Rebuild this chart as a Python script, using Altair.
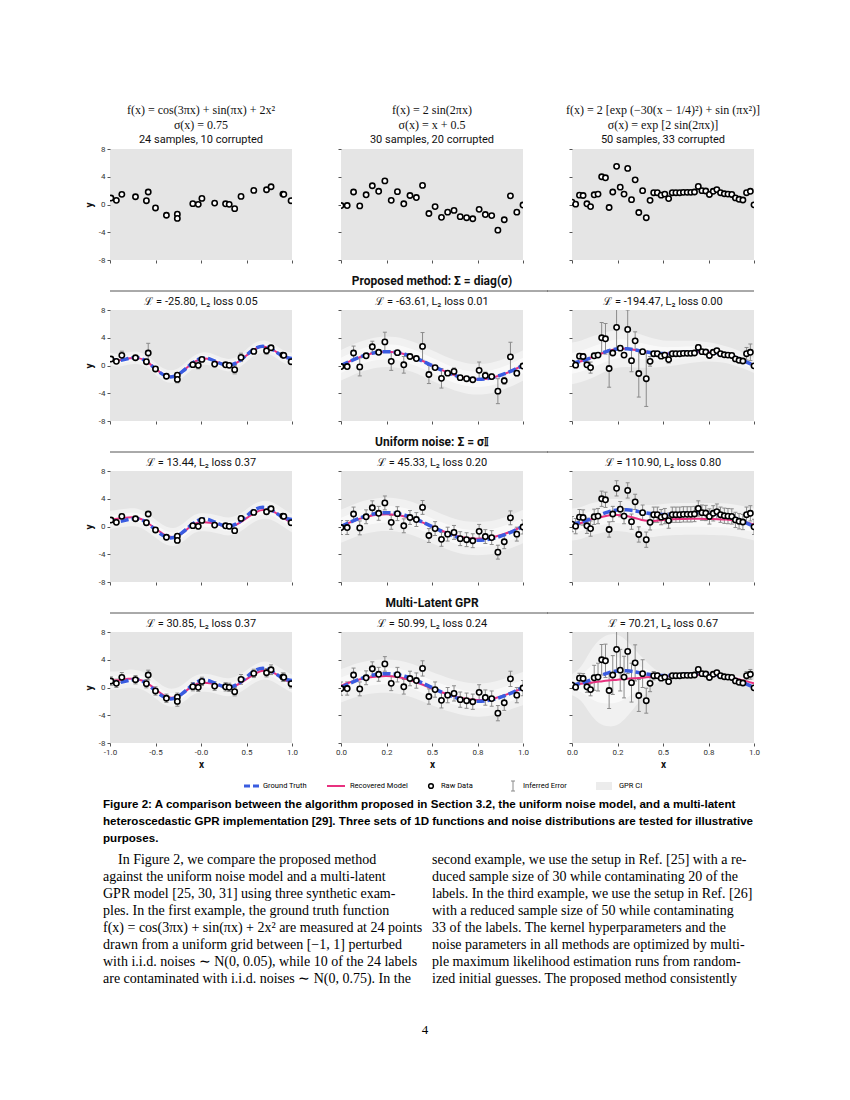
import altair as alt
import pandas as pd

BLUE = "#3a5ce0"
PINK = "#e8317f"
BG = "#e5e5e5"
ERRC = "#8a8a8a"

# ---------------- raw data (shared by all rows of a column) ----------------
x_c1 = [-0.99, -0.93, -0.87, -0.72, -0.60, -0.58, -0.50, -0.38, -0.26, -0.26, -0.09, -0.03,
        0.01, 0.15, 0.27, 0.31, 0.37, 0.44, 0.58, 0.72, 0.77, 0.90, 0.91, 0.99]
y_c1 = [0.93, 0.60, 1.46, 1.12, 0.55, 1.80, -0.50, -1.55, -1.40, -2.00, 0.12, 0.02,
        0.88, 0.20, 0.10, 0.02, -0.60, 1.17, 2.03, 2.13, 2.56, 1.50, 1.46, 0.55]

x_c2 = [0.0, 0.034, 0.069, 0.103, 0.138, 0.172, 0.207, 0.241, 0.276, 0.310, 0.345, 0.379,
        0.414, 0.448, 0.483, 0.517, 0.552, 0.586, 0.621, 0.655, 0.690, 0.724, 0.759, 0.793,
        0.828, 0.862, 0.897, 0.931, 0.966, 1.0]
y_c2 = [-0.15, -0.15, 1.8, -0.2, 1.4, 2.7, 1.9, 3.4, 0.6, 1.85, 0.1, 1.3, 1.0, 2.75, -1.3,
        -0.3, -1.85, -1.1, -0.85, -1.75, -1.9, -2.05, -0.7, -1.45, -1.6, -3.7, -2.2, 1.25,
        -1.1, -0.08]

x_c3 = [0.0, 0.020, 0.041, 0.061, 0.082, 0.102, 0.122, 0.143, 0.163, 0.184, 0.204, 0.224,
        0.245, 0.265, 0.286, 0.306, 0.327, 0.347, 0.367, 0.388, 0.408, 0.429, 0.449, 0.469,
        0.490, 0.510, 0.531, 0.551, 0.571, 0.592, 0.612, 0.633, 0.653, 0.673, 0.694, 0.714,
        0.735, 0.755, 0.776, 0.796, 0.816, 0.837, 0.857, 0.878, 0.898, 0.918, 0.939, 0.959,
        0.980, 1.0]
y_c3 = [0.34, 0.05, 1.35, 1.30, 0.10, -0.30, 1.40, 1.50, 4.00, 3.85, -0.43, 1.80, 5.50, 2.50,
        1.50, 5.20, 0.70, 3.55, -1.15, 2.00, -1.90, 0.60, 1.70, 1.70, 1.35, 1.50, 0.85, 1.70,
        1.70, 1.70, 1.75, 1.75, 1.75, 1.80, 2.60, 2.00, 1.95, 1.45, 1.90, 2.15, 1.70, 1.55,
        1.50, 1.45, 0.95, 0.75, 0.65, 1.70, 1.90, -0.05]

# ---------------- curves ----------------
grid_c1 = [-1.0, -0.9, -0.8, -0.7, -0.6, -0.5, -0.4, -0.3, -0.2, -0.1, 0.0,
           0.1, 0.2, 0.3, 0.4, 0.5, 0.6, 0.7, 0.8, 0.9, 1.0]
grid_c23 = [0.0, 0.05, 0.1, 0.15, 0.2, 0.25, 0.3, 0.35, 0.4, 0.45, 0.5,
            0.55, 0.6, 0.65, 0.7, 0.75, 0.8, 0.85, 0.9, 0.95, 1.0]

truth_c1 = [1.0, 0.72, 1.0, 1.12, 0.58, -0.5, -1.44, -1.58, -0.82, 0.3, 1.0,
            0.92, 0.36, 0.04, 0.46, 1.5, 2.48, 2.74, 2.18, 1.34, 1.0]
truth_c2 = [0.0, 0.62, 1.18, 1.62, 1.9, 2.0, 1.9, 1.62, 1.18, 0.62, 0.0,
            -0.62, -1.18, -1.62, -1.9, -2.0, -1.9, -1.62, -1.18, -0.62, 0.0]
truth_c3 = [0.31, 0.62, 1.08, 1.62, 2.11, 2.39, 2.41, 2.23, 1.98, 1.79, 1.72,
            1.76, 1.86, 1.96, 2.0, 1.96, 1.81, 1.53, 1.12, 0.6, 0.0]

# recovered mean: [proposed, uniform, multi-latent]
rec_c1 = [
    [0.92, 0.75, 1.0, 1.1, 0.6, -0.45, -1.38, -1.55, -0.82, 0.28, 0.95,
     0.9, 0.38, 0.05, 0.45, 1.45, 2.42, 2.7, 2.2, 1.35, 0.95],
    [0.95, 1.15, 1.3, 1.25, 0.65, -0.3, -1.2, -1.5, -0.9, 0.15, 0.6,
     0.55, 0.25, 0.0, 0.35, 1.2, 2.05, 2.4, 2.1, 1.3, 0.45],
    [1.0, 1.05, 1.25, 1.2, 0.7, -0.25, -1.2, -1.45, -0.85, 0.15, 0.65,
     0.6, 0.25, 0.05, 0.4, 1.2, 2.05, 2.45, 2.1, 1.3, 0.55],
]
rec_c2 = [
    [0.02, 0.63, 1.18, 1.6, 1.88, 1.98, 1.9, 1.62, 1.18, 0.62, 0.0,
     -0.6, -1.16, -1.6, -1.9, -1.99, -1.9, -1.62, -1.18, -0.63, 0.0],
    [0.05, 0.6, 1.1, 1.45, 1.68, 1.75, 1.68, 1.45, 1.05, 0.55, 0.0,
     -0.55, -1.05, -1.45, -1.68, -1.75, -1.68, -1.45, -1.05, -0.55, 0.0],
    [0.25, 0.75, 1.15, 1.45, 1.6, 1.65, 1.55, 1.3, 0.9, 0.4, -0.15,
     -0.65, -1.1, -1.45, -1.7, -1.8, -1.75, -1.5, -1.1, -0.6, -0.15],
]
rec_c3 = [
    [0.3, 0.62, 1.1, 1.6, 2.1, 2.38, 2.4, 2.22, 1.98, 1.8, 1.72,
     1.76, 1.86, 1.95, 2.0, 1.96, 1.8, 1.53, 1.12, 0.6, 0.02],
    [0.3, 0.5, 1.0, 1.3, 1.6, 1.65, 1.5, 1.2, 0.85, 0.8, 0.95,
     1.05, 1.08, 1.1, 1.1, 1.08, 1.05, 1.0, 0.85, 0.6, 0.3],
    [0.4, 0.55, 0.7, 0.85, 1.0, 1.12, 1.25, 1.35, 1.45, 1.55, 1.6,
     1.65, 1.72, 1.8, 1.85, 1.85, 1.75, 1.55, 1.3, 0.95, 0.6],
]

# CI half widths (outer band) per row: scalar = constant
ci_c1 = [0.9, 1.3, 1.3]
ci_c2 = [2.2, 2.4, 2.4]
ci_c3 = [
    [3.0, 3.0, 3.0, 2.9, 2.8, 2.7, 2.6, 2.5, 2.3, 2.1, 1.9,
     1.8, 1.7, 1.6, 1.5, 1.4, 1.3, 1.2, 1.2, 1.1, 1.1],
    2.3,
    [1.5, 2.5, 4.5, 6.0, 6.6, 6.5, 5.5, 4.0, 2.5, 1.2, 0.5,
     0.4, 0.35, 0.35, 0.35, 0.35, 0.35, 0.35, 0.4, 0.45, 0.5],
]

# inferred error half lengths per row: scalar = uniform noise level
err_c1 = [
    [0.1, 0.1, 0.6, 0.1, 0.1, 1.4, 0.1, 0.1, 0.2, 0.5, 0.1, 0.5,
     0.1, 0.4, 0.1, 0.1, 0.6, 0.6, 0.1, 0.5, 0.1, 0.1, 0.1, 0.1],
    0.35,
    [0.6, 0.6, 0.7, 0.6, 0.6, 0.7, 0.6, 0.6, 0.6, 0.7, 0.6, 0.6,
     0.6, 0.6, 0.6, 0.6, 0.6, 0.7, 0.6, 0.6, 0.7, 0.6, 0.6, 0.6],
]
err_c2 = [
    [0.1, 0.1, 1.0, 1.3, 0.3, 0.8, 0.1, 1.4, 1.3, 0.3, 1.2, 0.3, 0.3, 2.0, 1.3,
     0.2, 1.4, 0.3, 0.5, 0.3, 0.2, 0.2, 1.2, 0.5, 0.4, 1.8, 0.5, 2.1, 0.4, 0.2],
    1.0,
    [0.95, 0.95, 1.0, 1.0, 1.0, 1.0, 1.0, 1.05, 1.05, 1.05, 1.05, 1.05, 1.1, 1.1, 1.1,
     1.1, 1.1, 1.1, 1.1, 1.1, 1.1, 1.1, 1.1, 1.1, 1.1, 1.1, 1.1, 1.1, 1.1, 1.1],
]
err_c3 = [
    [0.1, 0.1, 0.4, 0.4, 0.1, 0.8, 0.1, 0.1, 2.2, 2.2, 2.7, 0.2, 3.0, 0.3, 0.2, 2.8, 1.6,
     1.3, 3.4, 0.2, 4.0, 0.7, 0.1, 0.1, 0.1, 0.1, 0.5, 0.1, 0.1, 0.1, 0.1, 0.1, 0.1, 0.1,
     0.4, 0.1, 0.1, 0.1, 0.1, 0.1, 0.1, 0.1, 0.1, 0.1, 0.1, 0.1, 0.1, 0.9, 1.2, 0.1],
    1.1,
    [0.4, 0.4, 0.7, 0.7, 0.8, 0.9, 1.8, 2.0, 2.2, 2.4, 2.6, 2.8, 3.0, 3.0, 3.0, 3.2, 2.8,
     2.6, 2.3, 2.0, 1.8, 1.2, 0.6, 0.4, 0.3, 0.3, 0.3, 0.3, 0.3, 0.3, 0.3, 0.3, 0.3, 0.3,
     0.3, 0.3, 0.3, 0.3, 0.3, 0.3, 0.3, 0.3, 0.3, 0.3, 0.3, 0.3, 0.3, 0.6, 0.7, 0.3],
]

# ---------------- texts ----------------
func_text = ["f(x) = cos(3πx) + sin(πx) + 2x²", "f(x) = 2 sin(2πx)",
             "f(x) = 2 [exp (−30(x − 1/4)²) + sin (πx²)]"]
sigma_text = ["σ(x) = 0.75", "σ(x) = x + 0.5", "σ(x) = exp [2 sin(2πx)]"]
n_samples = [24, 30, 50]
n_corrupt = [10, 20, 33]
loglik = [[-25.80, 13.44, 30.85], [-63.61, 45.33, 50.99], [-194.47, 110.90, 70.21]]
l2loss = [[0.05, 0.37, 0.37], [0.01, 0.20, 0.24], [0.00, 0.80, 0.67]]
headings = ["Proposed method: Σ = diag(σ)", "Uniform noise: Σ = σ𝕀", "Multi-Latent GPR"]

x_ticks = [[-1.0, -0.5, 0.0, 0.5, 1.0], [0.0, 0.25, 0.5, 0.75, 1.0], [0.0, 0.25, 0.5, 0.75, 1.0]]
x_tick_labels = [["-1.0", "-0.5", "-0.0", "0.5", "1.0"], ["0.0", "0.2", "0.5", "0.8", "1.0"],
                 ["0.0", "0.2", "0.5", "0.8", "1.0"]]
y_ticks = [-8, -4, 0, 4, 8]
y_tick_labels = ["-8", "-4", "0", "4", "8"]

legend_labels = ["Ground Truth", "Recovered Model", "Raw Data", "Inferred Error", "GPR CI"]

caption = [
    "Figure 2: A comparison between the algorithm proposed in Section 3.2, the uniform noise model, and a multi-latent",
    "heteroscedastic GPR implementation [29]. Three sets of 1D functions and noise distributions are tested for illustrative",
    "purposes.",
]
body_left = [
    "In Figure 2, we compare the proposed method",
    "against the uniform noise model and a multi-latent",
    "GPR model [25, 30, 31] using three synthetic exam-",
    "ples. In the first example, the ground truth function",
    "f(x) = cos(3πx) + sin(πx) + 2x² are measured at 24 points",
    "drawn from a uniform grid between [−1, 1] perturbed",
    "with i.i.d. noises ∼ N(0, 0.05), while 10 of the 24 labels",
    "are contaminated with i.i.d. noises ∼ N(0, 0.75). In the",
]
body_right = [
    "second example, we use the setup in Ref. [25] with a re-",
    "duced sample size of 30 while contaminating 20 of the",
    "labels. In the third example, we use the setup in Ref. [26]",
    "with a reduced sample size of 50 while contaminating",
    "33 of the labels. The kernel hyperparameters and the",
    "noise parameters in all methods are optimized by multi-",
    "ple maximum likelihood estimation runs from random-",
    "ized initial guesses. The proposed method consistently",
]
page_number = "4"

# ---------------- assembly ----------------
XS = [x_c1, x_c2, x_c3]
YS = [y_c1, y_c2, y_c3]
GRID = [grid_c1, grid_c23, grid_c23]
TRUTH = [truth_c1, truth_c2, truth_c3]
REC = [rec_c1, rec_c2, rec_c3]
CI = [ci_c1, ci_c2, ci_c3]
ERR = [err_c1, err_c2, err_c3]
XDOM = [[-1, 1], [0, 1], [0, 1]]

W, H = 182, 111
RULE_SPAN = [(0, 207), (-24, 207), (-25, W)]

DOT = alt.Data(values=[{}])


def lab_expr(vals, labs):
    e = "''"
    for v, l in reversed(list(zip(vals, labs))):
        e = f"(abs(datum.value - ({v})) < 1e-6 ? '{l}' : {e})"
    return e


def as_list(v, n):
    return list(v) if isinstance(v, (list, tuple)) else [v] * n


def txt(x, y, s, **kw):
    return alt.Chart(DOT).mark_text(**kw).encode(x=alt.value(x), y=alt.value(y), text=alt.value(s))


def footer_layers(oy):
    LY = oy + 16
    LFS = 7.5
    return [
        alt.Chart(DOT).mark_rule(color=BLUE, strokeWidth=3, strokeDash=[6, 3])
        .encode(x=alt.value(134), x2=alt.value(149), y=alt.value(LY)),
        txt(153, LY, legend_labels[0], font="Roboto", fontSize=LFS, align="left", baseline="middle"),
        alt.Chart(DOT).mark_rule(color=PINK, strokeWidth=2)
        .encode(x=alt.value(217), x2=alt.value(235), y=alt.value(LY)),
        txt(240, LY, legend_labels[1], font="Roboto", fontSize=LFS, align="left", baseline="middle"),
        alt.Chart(DOT).mark_point(shape="circle", size=22, stroke="black", strokeWidth=1.5,
                                  fill="white", filled=False, opacity=1)
        .encode(x=alt.value(321), y=alt.value(LY)),
        txt(331, LY, legend_labels[2], font="Roboto", fontSize=LFS, align="left", baseline="middle"),
        alt.Chart(DOT).mark_rule(color=ERRC, strokeWidth=1)
        .encode(x=alt.value(403), y=alt.value(LY - 5), y2=alt.value(LY + 5)),
        alt.Chart(DOT).mark_rule(color=ERRC, strokeWidth=1)
        .encode(x=alt.value(401), x2=alt.value(405), y=alt.value(LY - 5)),
        alt.Chart(DOT).mark_rule(color=ERRC, strokeWidth=1)
        .encode(x=alt.value(401), x2=alt.value(405), y=alt.value(LY + 5)),
        txt(413, LY, legend_labels[3], font="Roboto", fontSize=LFS, align="left", baseline="middle"),
        alt.Chart(DOT).mark_rect(color="#ececec")
        .encode(x=alt.value(486), x2=alt.value(502), y=alt.value(LY - 4), y2=alt.value(LY + 4)),
        txt(509, LY, legend_labels[4], font="Roboto", fontSize=LFS, align="left", baseline="middle"),
        txt(-7, oy + 29, caption, font="Liberation Sans", fontSize=11.6, fontWeight="bold",
            align="left", baseline="top", lineHeight=17, color="#000"),
        txt(8, oy + 83, body_left[0], font="Liberation Serif", fontSize=14, align="left",
            baseline="top", color="#000"),
        txt(-7, oy + 100, body_left[1:], font="Liberation Serif", fontSize=14, align="left",
            baseline="top", lineHeight=17, color="#000"),
        txt(322, oy + 83, body_right, font="Liberation Serif", fontSize=14, align="left",
            baseline="top", lineHeight=17, color="#000"),
        txt(315, oy + 260, page_number, font="Liberation Serif", fontSize=13, align="center",
            baseline="middle", color="#000"),
    ]


def panel(c, r):
    xa = alt.Axis(values=x_ticks[c], labelExpr=lab_expr(x_ticks[c], x_tick_labels[c]),
                  labels=(r == 3), title=("x" if r == 3 else None), domain=False, grid=False,
                  ticks=True, tickSize=3, tickColor="#555", labelFontSize=8, labelColor="#333",
                  labelPadding=2, labelFont="Roboto", titleFont="Roboto", titleFontSize=10,
                  titleFontWeight="bold", titleColor="#111", titlePadding=3, labelFlush=False)
    ya = alt.Axis(values=y_ticks, labelExpr=lab_expr(y_ticks, y_tick_labels),
                  labels=(c == 0), title=("y" if c == 0 else None), domain=False, grid=False,
                  ticks=True, tickSize=3, tickColor="#555", labelFontSize=8, labelColor="#333",
                  labelPadding=2, labelFont="Roboto", titleFont="Roboto", titleFontSize=10,
                  titleFontWeight="bold", titleColor="#111", titlePadding=4, labelFlush=False)
    xs = alt.Scale(domain=XDOM[c], nice=False, zero=False)
    ys = alt.Scale(domain=[-8, 8], nice=False, zero=False)

    def X(f):
        return alt.X(f, type="quantitative", scale=xs, axis=xa)

    def Y(f):
        return alt.Y(f, type="quantitative", scale=ys, axis=ya)

    layers = []
    n = len(XS[c])
    if r > 0:
        g = GRID[c]
        rec = REC[c][r - 1]
        ci = as_list(CI[c][r - 1], len(g))
        cur = pd.DataFrame({"x": g, "truth": TRUTH[c], "rec": rec})
        cur["o_lo"] = [m - h for m, h in zip(rec, ci)]
        cur["o_hi"] = [m + h for m, h in zip(rec, ci)]
        cur["i_lo"] = [m - 0.5 * h for m, h in zip(rec, ci)]
        cur["i_hi"] = [m + 0.5 * h for m, h in zip(rec, ci)]
        cb = alt.Chart(cur)
        layers.append(cb.mark_area(color="white", opacity=0.45, clip=True, interpolate="natural")
                      .encode(x=X("x"), y=Y("o_lo"), y2="o_hi"))
        layers.append(cb.mark_area(color="white", opacity=0.6, clip=True, interpolate="natural")
                      .encode(x=X("x"), y=Y("i_lo"), y2="i_hi"))
        e = as_list(ERR[c][r - 1], n)
        eb = pd.DataFrame({"x": XS[c],
                           "lo": [y - d for y, d in zip(YS[c], e)],
                           "hi": [y + d for y, d in zip(YS[c], e)]})
        ec = alt.Chart(eb)
        layers.append(ec.mark_rule(color=ERRC, strokeWidth=1, clip=True)
                      .encode(x=X("x"), y=Y("lo"), y2="hi"))
        for f in ("lo", "hi"):
            layers.append(ec.mark_tick(orient="horizontal", size=4, thickness=1, color=ERRC,
                                       opacity=1, clip=True).encode(x=X("x"), y=Y(f)))
        layers.append(cb.mark_line(color=PINK, strokeWidth=2, interpolate="natural", clip=True)
                      .encode(x=X("x"), y=Y("rec")))
        layers.append(cb.mark_line(color=BLUE, strokeWidth=3.5, strokeDash=[8, 3],
                                   interpolate="natural", clip=True)
                      .encode(x=X("x"), y=Y("truth")))
    pts = pd.DataFrame({"x": XS[c], "y": YS[c]})
    layers.append(alt.Chart(pts).mark_circle(size=28, fill="white", stroke="black",
                                             strokeWidth=1.6, opacity=1, clip=True)
                  .encode(x=X("x"), y=Y("y")))
    if r == 0:
        layers.append(txt(W / 2, -39, func_text[c], font="Liberation Serif", fontSize=12,
                          align="center", baseline="middle", color="#111"))
        layers.append(txt(W / 2, -24.5, sigma_text[c], font="Liberation Serif", fontSize=12,
                          align="center", baseline="middle", color="#111"))
        layers.append(txt(W / 2, -9.5, f"{n_samples[c]} samples, {n_corrupt[c]} corrupted",
                          font="Roboto", fontSize=11, align="center", baseline="middle",
                          color="#111"))
    else:
        x1, x2 = RULE_SPAN[c]
        layers.append(alt.Chart(DOT).mark_rule(color="#555", strokeWidth=1)
                      .encode(x=alt.value(x1), x2=alt.value(x2), y=alt.value(-19)))
        layers.append(txt(W / 2, -8, f"ℒ = {loglik[c][r - 1]:.2f}, L₂ loss {l2loss[c][r - 1]:.2f}",
                          font="Roboto", fontSize=11, align="center", baseline="middle",
                          color="#111"))
        if c == 1:
            layers.append(txt(W / 2, -29, headings[r - 1], font="Roboto", fontSize=12,
                              fontWeight="bold", align="center", baseline="middle",
                              color="#111"))
    if r == 3 and c == 0:
        layers += footer_layers(138)
    return alt.layer(*layers).properties(width=W, height=H,
                                         view=alt.ViewBackground(fill=BG, stroke=None))


panels = [panel(c, r) for r in range(4) for c in range(3)]
chart = alt.concat(*panels, columns=3, spacing={"row": 50, "column": 49}, bounds="flush").properties(
    padding={"left": 76, "top": 96, "right": 5, "bottom": 5}
).configure(font="Roboto").configure_view(stroke=None)

chart.save("out.html", embed_options={"renderer": "svg", "actions": False})
